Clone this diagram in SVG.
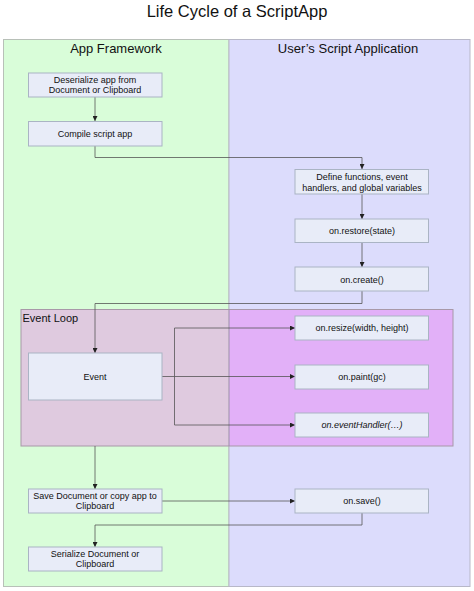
<svg xmlns="http://www.w3.org/2000/svg" width="474" height="591" viewBox="0 0 474 591">
<defs>
<style>
.t{font-family:"Liberation Sans",Arial,sans-serif;fill:#111}
.box{fill:#e8ecf8;stroke:#aab4c4;stroke-width:1}
.bt{font-family:"Liberation Sans",Arial,sans-serif;font-size:9px;fill:#111;text-anchor:middle}
.c{fill:none;stroke:#555;stroke-width:0.8}
</style>
<marker id="ah" viewBox="0 0 6 6" refX="6" refY="3" markerWidth="5" markerHeight="5" orient="auto" markerUnits="userSpaceOnUse">
<path d="M0,0 L6,3 L0,6 z" fill="#222"/>
</marker>
</defs>
<rect width="474" height="591" fill="#fff"/>
<text class="t" x="237" y="16.5" font-size="16.5" text-anchor="middle">Life Cycle of a ScriptApp</text>

<g id="lanes">
<rect x="3.5" y="39.5" width="225.5" height="547" fill="#d9fdd9" stroke="#b8c0b8"/>
<rect x="229" y="39.5" width="241" height="547" fill="#dcdcfc" stroke="#b8b8c8"/>
<text class="t" x="116" y="53" font-size="13" text-anchor="middle">App Framework</text>
<text class="t" x="348" y="53" font-size="13" text-anchor="middle">User’s Script Application</text>
</g>

<g id="event-loop">
<rect x="21" y="309.5" width="208" height="136.5" fill="#dfcadf"/>
<rect x="229" y="309.5" width="224" height="136.5" fill="#e2b0f8"/>
<rect x="21" y="309.5" width="432" height="136.5" fill="none" stroke="#a898a8"/>
<line x1="229" y1="309.5" x2="229" y2="446" stroke="#9a90a8" stroke-width="1"/>
<text class="t" x="22.5" y="322" font-size="11">Event Loop</text>
</g>

<g id="connectors">
<path class="c" d="M95,97 V121" marker-end="url(#ah)"/>
<path class="c" d="M95,146 V157.5 H362 V169" marker-end="url(#ah)"/>
<path class="c" d="M362,194 V219" marker-end="url(#ah)"/>
<path class="c" d="M362,242 V267" marker-end="url(#ah)"/>
<path class="c" d="M362,291 V303.5 H95 V353" marker-end="url(#ah)"/>
<path class="c" d="M162,376.5 H295" marker-end="url(#ah)"/>
<path class="c" d="M174.5,376.5 V328 H295" marker-end="url(#ah)"/>
<path class="c" d="M174.5,376.5 V425 H295" marker-end="url(#ah)"/>
<path class="c" d="M95,446 V489" marker-end="url(#ah)"/>
<path class="c" d="M162,501 H295" marker-end="url(#ah)"/>
<path class="c" d="M362,513 V525 H95 V547" marker-end="url(#ah)"/>
</g>

<g id="deserialize">
<rect class="box" x="28.5" y="73" width="133.5" height="24"/>
<text class="bt" x="95" y="82.5">Deserialize app from</text>
<text class="bt" x="95" y="92.5">Document or Clipboard</text>
</g>
<g id="compile">
<rect class="box" x="28.5" y="121.5" width="133.5" height="24.5"/>
<text class="bt" x="95" y="137">Compile script app</text>
</g>
<g id="define">
<rect class="box" x="295" y="169.5" width="133.5" height="24.5"/>
<text class="bt" x="362" y="179.5">Define functions, event</text>
<text class="bt" x="362" y="190.5">handlers, and global variables</text>
</g>
<g id="restore">
<rect class="box" x="295" y="219" width="133.5" height="23.5"/>
<text class="bt" x="362" y="234">on.restore(state)</text>
</g>
<g id="create">
<rect class="box" x="295" y="267" width="133.5" height="24"/>
<text class="bt" x="362" y="282.5">on.create()</text>
</g>
<g id="event">
<rect class="box" x="28.5" y="353" width="133.5" height="47"/>
<text class="bt" x="95" y="380">Event</text>
</g>
<g id="resize">
<rect class="box" x="295" y="316" width="133.5" height="24"/>
<text class="bt" x="362" y="331">on.resize(width, height)</text>
</g>
<g id="paint">
<rect class="box" x="295" y="365" width="133.5" height="24"/>
<text class="bt" x="362" y="380">on.paint(gc)</text>
</g>
<g id="handler">
<rect class="box" x="295" y="413" width="133.5" height="24"/>
<text class="bt" x="362" y="428" font-style="italic">on.eventHandler(…)</text>
</g>
<g id="save-doc">
<rect class="box" x="28.5" y="489" width="133.5" height="24"/>
<text class="bt" x="95" y="498.5">Save Document or copy app to</text>
<text class="bt" x="95" y="509">Clipboard</text>
</g>
<g id="on-save">
<rect class="box" x="295" y="489" width="133.5" height="24"/>
<text class="bt" x="362" y="504">on.save()</text>
</g>
<g id="serialize">
<rect class="box" x="28.5" y="547" width="133.5" height="24"/>
<text class="bt" x="95" y="556.5">Serialize Document or</text>
<text class="bt" x="95" y="567">Clipboard</text>
</g>
</svg>
